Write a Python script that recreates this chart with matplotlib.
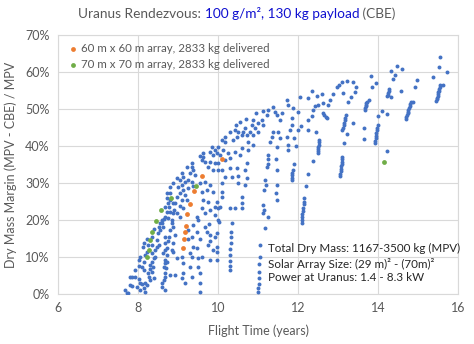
import numpy as np
import matplotlib
matplotlib.use("Agg")
import matplotlib.pyplot as plt

plt.rcParams["font.family"] = ["Lato", "DejaVu Sans"]

# ---------------- data (flight time [yr], dry mass margin [%]) ----------------
blue_left = [
    (7.68, 1.1), (7.73, 0.2), (7.76, 0.2), (7.81, 2.4), (7.84, 2.2), (7.80, 4.7), (7.85, 4.7),
    (7.92, 4.5), (7.97, 1.8), (8.05, 1.1), (8.06, 2.9), (8.09, 2.7), (7.93, 6.5), (8.02, 7.6),
    (8.03, 4.0), (8.14, 1.5), (8.18, 0.6), (8.18, 3.1), (8.23, 2.4), (8.28, 4.7), (8.25, 5.6),
    (8.30, 3.8), (8.35, 6.0), (8.39, 4.2), (8.14, 6.5), (8.10, 7.4), (8.14, 8.7), (8.02, 9.2),
    (8.06, 10.1), (8.18, 10.5), (8.31, 7.8), (8.35, 8.7), (8.39, 9.6), (8.35, 11.0), (8.22, 11.4),
    (8.13, 12.8), (8.26, 13.2), (8.38, 7.2), (8.43, 10.1), (8.30, 6.7), (8.14, 13.7), (8.23, 15.0),
    (8.35, 15.5), (8.48, 14.6), (8.52, 13.2), (8.50, 16.4), (8.56, 17.3), (8.52, 18.2), (8.60, 19.1),
    (8.64, 20.2), (8.68, 20.9), (8.73, 22.2), (8.77, 23.6), (8.81, 25.4), (8.67, 15.5), (8.68, 13.7),
    (8.67, 11.9), (8.68, 9.2), (8.64, 7.4), (8.67, 5.6), (8.64, 3.8), (8.60, 2.0), (8.68, 1.1),
    (8.35, 13.2), (8.43, 11.9), (8.39, 17.5), (8.47, 12.8), (8.55, 19.1), (8.68, 4.7), (8.70, 6.9),
    (8.72, 8.7), (8.72, 10.5), (8.72, 12.4), (8.76, 14.2), (8.78, 15.5), (8.80, 17.3), (8.84, 19.1),
    (8.87, 21.8), (8.89, 22.7), (8.88, 24.5), (8.80, 5.1), (8.93, 5.1), (8.84, 11.9), (8.97, 9.6),
    (8.80, 27.2), (8.72, 25.9), (8.76, 24.5), (8.68, 23.6), (8.80, 22.2), (8.74, 20.6), (8.84, 20.0),
    (8.88, 18.2), (8.93, 15.9), (8.88, 13.7), (8.63, 18.2), (8.59, 20.0), (8.88, 11.4), (8.63, 11.0),
    (8.68, 8.3), (8.59, 2.9), (8.97, 31.3), (8.88, 29.9), (8.80, 29.0), (8.72, 27.2),
]

blue_mid = [
    (9.84, 39.8), (9.93, 38.9), (9.80, 38.5), (9.88, 37.6), (9.97, 38.0), (9.63, 37.1), (9.59, 36.2),
    (9.68, 35.8), (9.80, 35.8), (9.93, 35.3), (9.76, 34.4), (9.88, 33.5), (10.01, 33.5), (9.34, 34.4),
    (9.38, 33.5), (9.30, 32.6), (9.43, 32.2), (9.26, 30.8), (9.34, 30.4), (9.38, 29.2), (9.26, 28.6),
    (9.13, 31.7), (9.18, 30.4), (9.09, 29.5), (9.05, 30.8), (9.01, 29.0), (9.13, 28.1), (9.05, 27.2),
    (9.18, 26.8), (8.97, 26.3), (9.09, 25.4), (9.22, 25.4), (8.93, 24.5), (9.05, 23.8), (9.13, 23.2),
    (8.97, 21.8), (9.05, 20.9), (9.55, 29.9), (9.68, 30.4), (9.80, 29.5), (9.72, 28.1), (9.59, 27.6),
    (9.88, 27.6), (9.63, 25.4), (9.76, 24.9), (9.59, 23.2), (9.80, 22.7), (9.93, 23.6), (9.97, 24.9),
    (9.93, 21.4), (10.01, 20.0), (9.47, 20.9), (9.51, 20.0), (9.38, 18.6), (9.47, 16.8), (9.34, 15.5),
    (9.55, 15.0), (9.38, 12.8), (9.30, 11.0), (9.68, 18.2), (9.80, 15.9), (9.76, 13.2), (9.93, 15.5),
    (9.97, 12.8), (9.13, 8.3), (9.13, 5.6), (9.18, 2.9), (9.30, 7.4), (9.34, 4.7), (9.55, 5.6),
    (9.55, 2.9), (9.55, 0.6), (9.59, 10.1), (9.97, 9.2), (9.09, 10.1), (9.11, 4.2), (9.26, 17.3),
    (9.26, 15.0), (9.34, 10.1), (9.47, 12.4), (9.51, 9.6), (9.51, 7.2), (9.68, 21.8), (9.78, 19.0),
    (9.73, 16.8), (9.80, 14.2), (9.80, 9.2), (9.88, 11.9), (10.01, 23.2), (9.98, 16.4), (9.97, 11.4),
    (9.55, 37.3), (9.63, 38.0), (9.34, 35.3), (9.22, 34.4), (9.09, 32.6), (10.09, 41.6), (10.18, 42.5),
    (10.30, 43.9), (10.43, 44.3), (10.47, 42.5), (10.38, 41.6), (10.18, 41.2), (10.01, 39.8),
    (10.09, 29.9), (10.09, 27.6), (10.05, 23.6), (10.03, 19.5), (10.11, 26.3), (10.13, 38.9),
    (10.26, 38.0), (10.30, 36.7), (10.18, 36.2), (10.05, 37.6), (10.01, 35.3), (10.09, 33.5),
    (10.30, 34.0), (10.34, 31.7), (10.18, 31.7), (10.43, 38.5), (10.30, 23.2), (10.34, 19.1),
    (10.33, 16.8), (10.32, 15.3), (10.32, 13.8), (10.31, 12.2), (10.31, 10.5), (10.30, 9.0),
    (10.30, 7.6), (10.30, 6.4), (10.47, 34.0), (10.51, 31.9), (10.49, 29.9), (10.43, 23.2),
]

blue_upper = [
    (11.72, 52.4), (11.76, 51.1), (11.59, 48.8), (11.43, 49.3), (11.26, 49.7), (11.22, 48.4),
    (11.47, 48.4), (11.55, 47.0), (11.09, 47.0), (11.01, 46.1), (11.13, 45.7), (10.88, 47.0),
    (10.84, 45.7), (10.93, 44.8), (10.80, 43.9), (11.01, 43.9), (10.88, 43.0), (10.68, 44.8),
    (10.63, 43.9), (10.59, 43.0), (10.72, 43.0), (10.51, 43.9), (11.38, 43.9), (11.34, 42.5),
    (11.30, 41.2), (11.51, 43.9), (11.55, 42.1), (11.72, 42.5), (11.76, 40.3), (11.26, 37.6),
    (11.25, 36.4), (11.24, 35.2), (11.22, 34.4), (11.44, 36.4), (11.47, 33.5), (11.18, 30.8),
    (11.19, 29.5), (11.16, 28.1), (11.47, 29.5), (11.45, 27.2), (11.13, 24.1), (11.15, 22.7),
    (11.12, 21.8), (11.26, 20.9), (11.18, 17.8), (11.05, 13.2), (11.04, 10.0), (11.03, 8.0),
    (11.03, 6.0), (11.02, 4.2), (11.02, 2.8), (11.01, 1.5), (11.01, 0.6), (10.72, 35.3),
    (10.68, 33.5), (10.72, 31.3), (10.68, 29.5), (10.59, 26.3), (10.59, 24.5), (10.59, 23.2),
    (10.55, 37.6), (10.59, 39.4), (10.76, 38.9), (10.76, 41.2), (10.88, 40.3), (10.95, 48.8),
    (10.70, 47.4), (10.55, 46.5), (10.45, 45.6), (11.12, 49.5), (11.38, 50.6), (11.47, 39.8),
    (11.47, 25.4), (11.88, 50.2), (11.99, 49.3), (11.84, 47.5), (11.84, 45.7), (11.80, 44.3),
    (11.99, 44.3), (11.91, 42.1), (11.94, 40.0), (11.76, 38.9), (11.90, 35.1), (11.87, 33.5),
    (11.86, 32.8), (11.85, 32.1), (11.85, 31.4), (11.84, 30.8), (12.05, 53.3), (12.07, 45.4),
    (12.34, 55.0), (12.26, 52.9), (12.47, 53.5), (12.59, 54.0), (12.51, 51.1), (12.43, 50.8),
    (12.63, 48.8), (12.66, 48.4), (12.69, 47.9), (12.72, 47.5), (12.38, 49.7), (12.36, 48.1),
    (12.26, 44.3), (12.45, 43.9), (12.53, 41.6), (12.52, 41.0), (12.52, 40.4), (12.51, 39.8),
    (12.50, 39.2), (12.50, 38.6), (12.49, 38.0), (12.38, 36.0), (12.24, 32.4), (12.20, 29.2),
    (12.16, 25.9), (12.15, 25.0), (12.14, 24.2), (12.13, 23.3), (12.12, 22.5), (12.11, 21.6),
    (12.10, 20.8), (12.10, 19.9), (12.09, 19.1), (12.63, 51.5), (12.26, 47.0),
]

blue_right = [
    (13.22, 57.7), (13.09, 57.4), (13.03, 56.5), (13.38, 57.2), (13.46, 56.0), (13.42, 54.7),
    (13.33, 53.2), (13.26, 52.0), (12.88, 54.0), (12.80, 52.4), (12.76, 51.1), (12.97, 56.0),
    (13.13, 54.2), (13.20, 48.4), (13.18, 47.7), (13.17, 47.0), (13.15, 46.3), (13.14, 45.6),
    (13.12, 45.0), (13.11, 44.3), (13.22, 43.2), (13.16, 40.9), (13.11, 37.1), (13.10, 36.4),
    (13.09, 35.8), (13.09, 35.1), (13.08, 34.5), (13.08, 33.8), (13.07, 33.2), (13.06, 32.5),
    (13.06, 31.9), (13.38, 46.1), (13.65, 45.0), (13.65, 41.8), (13.72, 52.0), (13.71, 51.6),
    (13.70, 51.1), (13.69, 50.8), (13.68, 50.3), (13.67, 49.8), (13.83, 58.9), (13.95, 57.1),
    (13.86, 56.0), (13.78, 52.3), (14.09, 49.5), (14.01, 48.1), (14.22, 48.6), (13.99, 45.7),
    (13.98, 45.0), (13.97, 44.3), (13.96, 43.6), (13.95, 42.8), (13.94, 42.1), (13.93, 41.4),
    (13.93, 40.7), (14.22, 38.7), (14.47, 61.6), (14.32, 60.4), (14.59, 60.7), (14.43, 59.3),
    (14.37, 58.0), (14.28, 55.3), (14.27, 54.8), (14.25, 54.4), (14.24, 53.9), (14.22, 53.5),
    (14.33, 53.2), (14.58, 55.0), (14.97, 57.8), (14.93, 55.9), (14.87, 52.0), (14.82, 51.8),
    (14.80, 51.3), (14.79, 50.8), (14.77, 50.3), (14.76, 49.8), (14.75, 49.3), (14.74, 48.8),
    (14.72, 48.3), (14.71, 47.8), (14.70, 47.3), (15.56, 64.1), (15.53, 61.3), (15.72, 60.1),
    (15.38, 58.6), (15.62, 56.6), (15.55, 56.5), (15.54, 56.0), (15.53, 55.5), (15.52, 55.0),
    (15.51, 54.6), (15.50, 54.1), (15.49, 53.6), (15.48, 53.1), (15.47, 52.7), (15.46, 52.2),
]

orange_pts = [
    (10.10, 36.6), (9.59, 32.0), (9.39, 27.9), (9.30, 24.3), (9.23, 21.7),
    (9.20, 18.4), (9.18, 16.7), (9.15, 14.8), (9.13, 12.3),
]
green_pts = [
    (9.46, 29.2), (8.83, 25.9), (8.57, 22.7), (8.44, 19.8), (8.36, 16.7),
    (8.31, 14.7), (8.27, 11.8), (8.23, 10.1), (14.16, 35.7),
]

labels = ["60 m x 60 m array, 2833 kg delivered", "70 m x 70 m array, 2833 kg delivered"]
note_lines = ["Total Dry Mass: 1167-3500 kg (MPV)",
              "Solar Array Size: (29 m)\u00b2 - (70m)\u00b2",
              "Power at Uranus: 1.4 - 8.3 kW"]

BLUE, ORANGE, GREEN, GRAY = "#4472C4", "#ED7D31", "#70AD47", "#595959"

fig = plt.figure(figsize=(4.74, 3.44), dpi=100)
ax = fig.add_axes([58 / 474, 1 - 294 / 344, 400 / 474, 259 / 344])

blue = np.array(blue_left + blue_mid + blue_upper + blue_right)
ax.scatter(blue[:, 0], blue[:, 1] / 100, s=8, color=BLUE, linewidths=0, zorder=3)
o = np.array(orange_pts)
g = np.array(green_pts)
ax.scatter(o[:, 0], o[:, 1] / 100, s=12, color=ORANGE, linewidths=0, zorder=4, label=labels[0])
ax.scatter(g[:, 0], g[:, 1] / 100, s=12, color=GREEN, linewidths=0, zorder=4, label=labels[1])

ax.set_xlim(6, 16)
ax.set_ylim(0, 0.7)
ax.set_xticks(np.arange(6, 17, 2))
ax.set_yticks(np.arange(0, 0.71, 0.1))
ax.set_yticklabels([f"{int(round(v * 100))}%" for v in np.arange(0, 0.71, 0.1)])
ax.grid(True, color="#d9d9d9", linewidth=0.8, zorder=0)
ax.set_axisbelow(True)
for sp in ax.spines.values():
    sp.set_color("#d9d9d9")
    sp.set_linewidth(0.8)
ax.tick_params(length=0, colors=GRAY, labelsize=9, pad=6)
ax.set_xlabel("Flight Time (years)", color=GRAY, fontsize=9, labelpad=7)
ax.set_ylabel("Dry Mass Margin (MPV - CBE) / MPV", color=GRAY, fontsize=9, labelpad=6)

leg = ax.legend(loc="upper left", bbox_to_anchor=(0.0, 1.0), frameon=False, fontsize=8.3,
                handletextpad=0.1, markerscale=1.0, labelspacing=0.45, borderaxespad=0.3,
                handlelength=1.2)
for t in leg.get_texts():
    t.set_color(GRAY)

ax.text(11.25, 0.137, "\n".join(note_lines), fontsize=8.4, color="#262626",
        va="top", ha="left", linespacing=1.32, transform=ax.transData)

# title in three colours
parts = [("Uranus Rendezvous: ", GRAY), ("100 g/m\u00b2, 130 kg payload", "#1010d0"), (" (CBE)", GRAY)]
fig.canvas.draw()
r = fig.canvas.get_renderer()
widths = []
for s, c in parts:
    t = fig.text(0, 0, s, fontsize=9.8)
    widths.append(t.get_window_extent(r).width)
    t.remove()
x0 = (474 - sum(widths)) / 2
for (s, c), w in zip(parts, widths):
    fig.text(x0 / 474, 1 - 14 / 344, s, fontsize=9.8, color=c, va="center", ha="left")
    x0 += w

fig.savefig("out.png", dpi=100)
